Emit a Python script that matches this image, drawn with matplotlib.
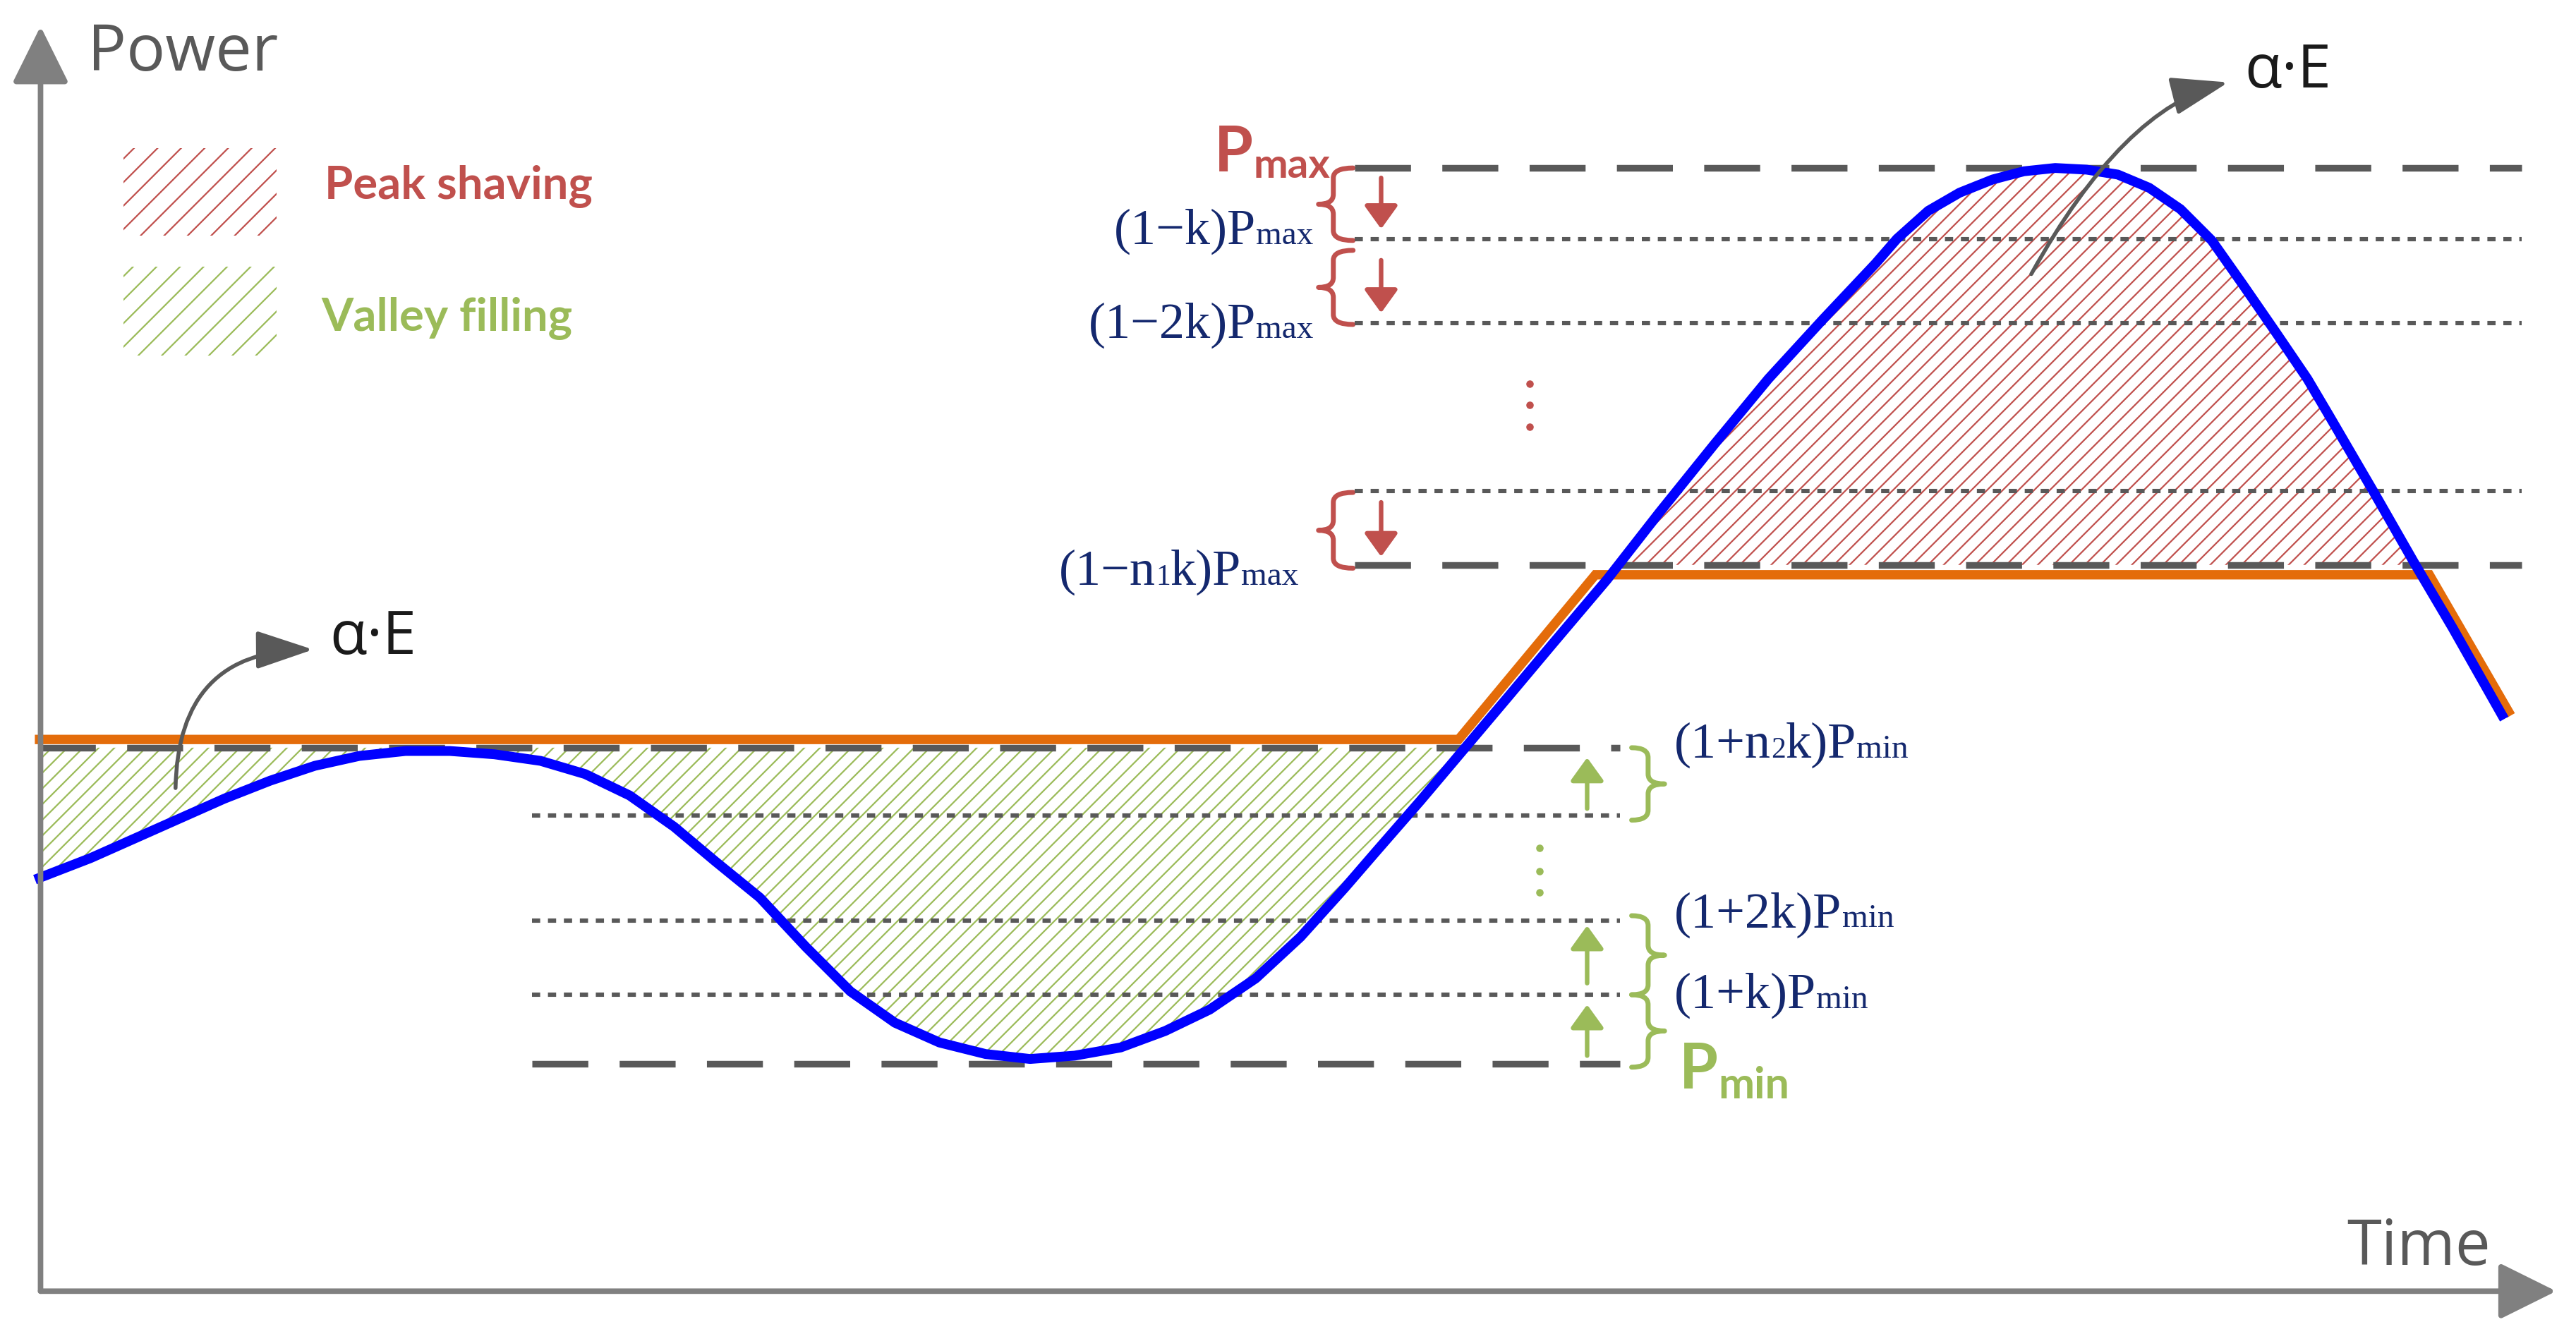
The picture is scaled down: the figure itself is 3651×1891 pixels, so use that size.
import matplotlib
matplotlib.use("Agg")
import matplotlib.pyplot as plt
from matplotlib.path import Path
from matplotlib.patches import PathPatch, Rectangle, FancyArrowPatch

plt.rcParams['hatch.linewidth'] = 0.8

# ---- data (time, power) in picture units ----
load_t = [24, 55, 82, 109, 136, 164, 191, 218, 246, 273, 300, 328, 355, 382, 409,
          434, 461, 489, 516, 543, 570, 598, 625, 652, 680, 707, 734, 762, 789,
          816, 835, 862, 889, 916, 942, 975, 1007, 1040, 1073, 1106, 1138, 1151,
          1170, 1189, 1209, 1228, 1247, 1266, 1285, 1304, 1323, 1342, 1361, 1381,
          1400, 1413, 1441, 1465, 1488, 1518]
load_p = [277, 289, 301, 313, 325, 336, 345, 351, 354, 354, 352, 348, 340, 327, 308,
          287, 265, 235, 208, 189, 177, 170, 167, 169, 174, 184, 197, 216, 241,
          271, 293, 324, 356, 388, 419, 458, 499, 540, 580, 616, 650, 665,
          682, 693, 701, 706, 708, 707, 704, 696, 683, 664, 637, 608,
          580, 558, 510, 468, 429, 376]

grid_t = [24, 885, 968, 1474, 1522]
grid_p = [361, 361, 461, 461, 378]

p_max = 708
p_max_steps = [665, 614, 512]       # dotted (1-k), (1-2k), ...
p_max_n1 = 467                       # (1-n1 k) Pmax
p_min = 164
p_min_steps = [206, 251, 315]        # dotted (1+k), (1+2k), ...
p_min_n2 = 356                       # (1+n2 k) Pmin

RED = '#C0504D'
GREEN = '#9BBB59'
GREY = '#595959'
NAVY = '#14286e'
BLUE = '#0000FF'
ORANGE = '#E46C0A'

fig = plt.figure(figsize=(3651 / 200, 1891 / 200), dpi=200)
ax = fig.add_axes([0, 0, 1, 1])
ax.set_xlim(0, 1563)
ax.set_ylim(0, 810)
ax.set_axis_off()

dash = (0, (8.4, 4.7))
dot = (0, (1.9, 1.8))

# reference lines
ax.plot([822, 1530], [p_max, p_max], color=GREY, lw=3.4, linestyle=dash)
ax.plot([822, 1530], [p_max_n1, p_max_n1], color=GREY, lw=3.4, linestyle=dash)
for p in p_max_steps:
    ax.plot([822, 1530], [p, p], color=GREY, lw=2.2, linestyle=dot)
ax.plot([24, 983], [p_min_n2, p_min_n2], color=GREY, lw=3.4, linestyle=dash)
ax.plot([323, 983], [p_min, p_min], color=GREY, lw=3.4, linestyle=dash)
for p in p_min_steps:
    ax.plot([323, 983], [p, p], color=GREY, lw=2.2, linestyle=dot)

# hatched areas
ax.fill_between(load_t, load_p, p_max_n1, where=[v >= p_max_n1 for v in load_p],
                interpolate=True, facecolor='none', edgecolor=RED, hatch='///', lw=0)
ax.fill_between(load_t, load_p, p_min_n2, where=[v <= p_min_n2 for v in load_p],
                interpolate=True, facecolor='none', edgecolor=GREEN, hatch='///', lw=0)

ax.plot(grid_t, grid_p, color=ORANGE, lw=4.8, solid_joinstyle='miter', zorder=4)
ax.plot(load_t, load_p, color=BLUE, lw=5.0, solid_joinstyle='round', zorder=5)


def arrow(x0, y0, x1, y1, color, lw, hl, hw, ms=20):
    ax.annotate('', xy=(x1, y1), xytext=(x0, y0),
                arrowprops=dict(arrowstyle='-|>,head_length=%g,head_width=%g' % (hl, hw),
                                color=color, lw=lw, shrinkA=0, shrinkB=0,
                                mutation_scale=ms), zorder=6)


def curved_arrow(p0, c, p1):
    path = Path([p0, c, p1], [Path.MOVETO, Path.CURVE3, Path.CURVE3])
    ax.add_patch(FancyArrowPatch(path=path, arrowstyle='-|>,head_length=1.25,head_width=0.42',
                                 mutation_scale=20, color=GREY, lw=2.0, zorder=6))


# axes arrows
arrow(24.6, 26, 24.6, 794, '#808080', 2.8, 1.25, 0.62)
arrow(24.6, 26, 1551, 26, '#808080', 2.8, 1.25, 0.62)
ax.text(53, 767, 'Power', family='Open Sans', fontsize=33, color=GREY, va='baseline')
ax.text(1424, 42, 'Time', family='Open Sans', fontsize=32, color=GREY, va='baseline')

# legend
ax.add_patch(Rectangle((75, 667), 93, 53, facecolor='none', edgecolor=RED, hatch='//', lw=0))
ax.add_patch(Rectangle((75, 594), 93, 54, facecolor='none', edgecolor=GREEN, hatch='//', lw=0))
ax.text(197, 689, 'Peak shaving', family='Lato', weight='bold', fontsize=23.5, color=RED,
        va='baseline')
ax.text(195, 609, 'Valley filling', family='Lato', weight='bold', fontsize=23.5, color=GREEN,
        va='baseline')

# alpha*E annotations
curved_arrow((106.5, 331.5), (108, 415), (190, 415.6))
ax.text(200, 413, 'α·E', family='Open Sans', fontsize=31, color='#1a1a1a', va='baseline')
curved_arrow((1232.5, 643.6), (1288, 744), (1352, 760))
ax.text(1362, 757, 'α·E', family='Open Sans', fontsize=31, color='#1a1a1a', va='baseline')


def brace(xs, y0, y1, tip_x, end_x, color):
    ym = (y0 + y1) / 2
    r = 6
    verts = [(end_x, y1), (xs, y1), (xs, y1 - r),
             (xs, ym + r), (xs, ym), (tip_x, ym),
             (xs, ym), (xs, ym - r),
             (xs, y0 + r), (xs, y0), (end_x, y0)]
    codes = [Path.MOVETO, Path.CURVE3, Path.CURVE3,
             Path.LINETO, Path.CURVE3, Path.CURVE3,
             Path.CURVE3, Path.CURVE3,
             Path.LINETO, Path.CURVE3, Path.CURVE3]
    ax.add_patch(PathPatch(Path(verts, codes), facecolor='none', edgecolor=color,
                           lw=2.5, capstyle='round', joinstyle='round'))


# peak side braces / arrows
for y0, y1 in [(664, 708), (613, 658), (465, 511)]:
    brace(809, y0, y1, 800, 821, RED)
    arrow(838, y1 - 6, 838, y0 + 7, RED, 2.3, 0.5, 0.36)
ax.plot([928, 928, 928], [577, 564, 551], 'o', color=RED, ms=3.8, mec='none')

# valley side braces / arrows
for y0, y1 in [(312, 356), (206, 254), (162, 206)]:
    brace(1000, y0, y1, 1010, 990, GREEN)
    arrow(963, y0 + 7, 963, y1 - 6, GREEN, 2.3, 0.5, 0.36)
ax.plot([934, 934, 934], [295, 281, 268], 'o', color=GREEN, ms=3.8, mec='none')


def chain(pieces, x, side, color, family, weight='normal'):
    # pieces: (text, fontsize, baseline)
    order = pieces if side == 'left' else pieces[::-1]
    prev = None
    for txt, size, base in order:
        if prev is None:
            prev = ax.text(x, base, txt, fontsize=size, color=color, family=family,
                           weight=weight, ha=side, va='baseline')
        else:
            fx = 1 if side == 'left' else 0
            prev = ax.annotate(txt, xy=(fx, base), xycoords=(prev, 'data'),
                               fontsize=size, color=color, family=family,
                               weight=weight, ha=side, va='baseline')


SERIF = 'Liberation Serif'
chain([('(1−k)P', 26, 662), ('max', 17, 662)], 797, 'right', NAVY, SERIF)
chain([('(1−2k)P', 26, 605), ('max', 17, 605)], 797, 'right', NAVY, SERIF)
chain([('(1−n', 26, 455), ('1', 15, 455), ('k)P', 26, 455), ('max', 17, 455)],
      788, 'right', NAVY, SERIF)
chain([('(1+n', 26, 350), ('2', 15, 350), ('k)P', 26, 350), ('min', 17, 350)],
      1016, 'left', NAVY, SERIF)
chain([('(1+2k)P', 26, 247), ('min', 17, 247)], 1016, 'left', NAVY, SERIF)
chain([('(1+k)P', 26, 198), ('min', 17, 198)], 1016, 'left', NAVY, SERIF)

chain([('P', 32, 706), ('max', 21, 702)], 807, 'right', RED, 'Lato', 'bold')
chain([('P', 32, 149), ('min', 22, 143)], 1019, 'left', GREEN, 'Lato', 'bold')

fig.savefig('out.png', dpi=200, facecolor='white')
